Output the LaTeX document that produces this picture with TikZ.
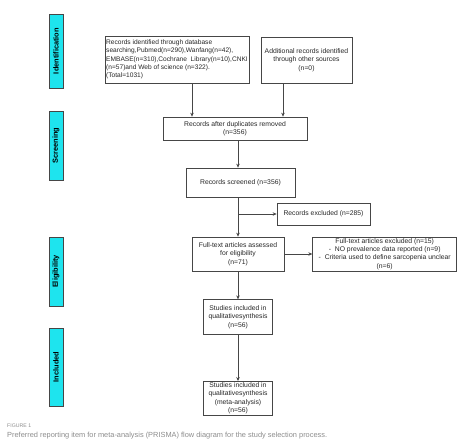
\documentclass[tikz,border=0pt]{standalone}
\usepackage{fontspec}
\setmainfont{Liberation Sans}
\usetikzlibrary{arrows.meta,positioning}
\definecolor{barcyan}{RGB}{30,228,238}
\definecolor{linegray}{RGB}{70,70,70}
\tikzset{bx/.style={draw=linegray,line width=0.7pt,align=center,text=black!85,font=\fontsize{6.8}{8.4}\selectfont,inner sep=1pt},
 sb/.style={draw=linegray,line width=0.7pt,fill=barcyan,rotate=90,minimum height=14pt,inner sep=0pt,font=\fontsize{7.4}{8}\selectfont\bfseries},
 ar/.style={draw=linegray,line width=0.7pt,-{Stealth[length=4pt,width=3.5pt]}},
 captxt/.style={anchor=west,text=black!45,inner sep=0pt}}

\begin{document}
\begin{tikzpicture}[x=1pt,y=-1pt]
\useasboundingbox (0,0) rectangle (474,440);
% stage bars
\node[sb,minimum width=74pt](sid) at (56,51){Identification};
\node[sb,minimum width=69pt](ssc) at (56,145.5){Screening};
\node[sb,minimum width=69pt](sel) at (56,271.5){Eligibility};
\node[sb,minimum width=78pt](sin) at (56,367){Included};
% boxes
\node[bx,align=left,minimum width=144pt,minimum height=47pt,font=\fontsize{6.6}{8.3}\selectfont](idb) at (177,59.5){Records identified through database\\searching,Pubmed(n=290),Wanfang(n=42),\\EMBASE(n=310),Cochrane\ \ Library(n=10),CNKI\\(n=57)and Web of science (n=322).\\(Total=1031)};
\node[bx,minimum width=91pt,minimum height=46pt](oth) at (306.5,60){Additional records identified\\through other sources\\(n=0)};
\node[bx,minimum width=144pt,minimum height=23pt](dup) at (235,128.5){Records after duplicates removed\\(n=356)};
\node[bx,minimum width=109pt,minimum height=29pt](scr) at (240.5,182.5){Records screened (n=356)};
\node[bx,minimum width=93pt,minimum height=22pt](exc) at (323.5,214){Records excluded (n=285)};
\node[bx,minimum width=92pt,minimum height=34pt](ful) at (238,254){Full-text articles assessed\\for eligibility\\(n=71)};
\node[bx,minimum width=144pt,minimum height=34pt,right=28pt of ful](fex){Full-text articles excluded (n=15)\\-\ \ NO prevalence data reported (n=9)\\-\ \ Criteria used to define sarcopenia unclear\\(n=6)};
\node[bx,minimum width=69pt,minimum height=35pt,below=28pt of ful](qua){Studies included in\\qualitativesynthesis\\(n=56)};
\node[bx,minimum width=69pt,minimum height=34pt,below=46pt of qua](met){Studies included in\\qualitativesynthesis\\(meta-analysis)\\(n=56)};
\coordinate(tr) at (238,0);
% caption
\node[captxt,font=\fontsize{5.2}{6}\selectfont](fig) at (7,426){FIGURE 1};
\node[captxt,font=\fontsize{7.4}{8}\selectfont](txt) at (7,436){Preferred reporting item for meta-analysis (PRISMA) flow diagram for the study selection process.};
% arrows
\draw[ar]([xshift=15pt]idb.south)--([xshift=15pt]idb.south |- dup.north);\draw[ar]([xshift=-23.5pt]oth.south)--([xshift=-23.5pt]oth.south |- dup.north);
\draw[ar](dup.south -| tr)--(scr.north -| tr);\draw[ar](scr.south -| tr)--(ful.north -| tr);\draw[ar](exc.west -| tr)--(exc.west);
\draw[ar](ful)--(fex);\draw[ar](ful)--(qua);\draw[ar](qua)--(met);
\end{tikzpicture}
\end{document}
